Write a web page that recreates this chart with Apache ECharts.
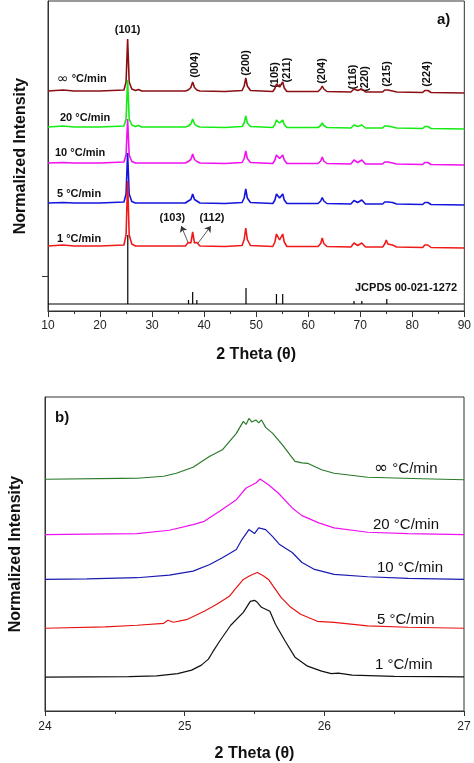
<!DOCTYPE html>
<html>
<head>
<meta charset="utf-8">
<script src="https://cdn.jsdelivr.net/npm/echarts@6/dist/echarts.min.js"></script>
<style>
  html, body { margin: 0; padding: 0; background: #fff; }
  #main { width: 474px; height: 763px; }
</style>
</head>
<body>
<div id="main"></div>
<script>
// ---- panel a: survey patterns (2 theta grid shared by all traces) ----
var twoThetaA = [10, 12.9, 15, 20,
  24.6, 25.0, 25.3, 25.6, 26.1, 26.8, 27.4, 28.0, 32,
  36.4, 36.95, 37.45, 37.8, 38.15, 38.6, 39.2, 44,
  47.3, 47.7, 48.0, 48.3, 48.9,
  53.2, 53.6, 53.9, 54.5, 55.1, 55.4, 55.9,
  61.9, 62.4, 62.7, 63.0, 63.6,
  68.2, 68.8, 69.5, 70.3, 71.0,
  74.3, 74.7, 75.0, 75.3, 76.2, 77.0,
  82.0, 82.4, 82.7, 83.0, 83.6,
  90];

var quenchA = [1, 2, 1, 1,
  2, 10, 53, 10, 3, 1.5, 2.5, 1, 1,
  1, 2, 4.5, 10, 4.5, 2, 1, 0.5,
  1.5, 6, 14, 6, 1.5,
  0.5, 3.5, 8, 5, 10, 4, 0.5,
  0.5, 3, 6, 3, 0.5,
  0, 3, 1.5, 3, 0,
  0, 2, 4, 2, 1, 0,
  -0.5, 1.5, 3, 1.5, -0.5,
  -1];
var rate20A = [1, 2, 1, 1,
  2, 9, 48, 9, 3, 1.5, 2.5, 1, 1,
  1, 2, 4, 9, 4, 2, 1, 0.5,
  1.5, 5, 12, 5, 1.5,
  0.5, 3.5, 8, 5, 8, 3.5, 0.5,
  0.5, 2.5, 5, 2.5, 0.5,
  0, 3, 1.5, 3, 0,
  0, 2, 4, 2, 1, 0,
  -0.5, 1.5, 3, 1.5, -0.5,
  -1];
var rate10A = [1, 1.5, 1, 1,
  2, 9, 45, 9, 2.5, 1, 1, 1, 1,
  1, 2.5, 4.5, 10, 4.5, 2.5, 1, 0.5,
  1.5, 5.5, 13, 5.5, 1.5,
  0.5, 4, 9, 5.5, 9, 4, 0.5,
  0.5, 3, 7, 3, 0.5,
  0, 4, 1.5, 4, 0,
  0, 2, 4, 2, 1, 0,
  -0.5, 1.5, 3, 1.5, -0.5,
  -1];
var rate5A = [1, 1.5, 1, 1,
  2, 10, 51, 10, 2.5, 1, 1, 1, 1,
  1, 3, 4.5, 10, 4.5, 3, 1, 0.5,
  1.5, 6, 15, 6, 1.5,
  0.5, 4, 10, 6, 10, 4, 0.5,
  0.5, 3, 6.5, 3, 0.5,
  0, 3.5, 1.5, 4, 0,
  0, 2, 4, 2, 1.5, 0,
  -0.5, 1.5, 3, 1.5, -0.5,
  -1];
var rate1A = [1, 2, 1, 1,
  2, 12, 66, 12, 3, 1, 1, 1, 1,
  1, 4.5, 4, 15, 4, 4.5, 1, 0.5,
  1.5, 7.5, 19, 7.5, 1.5,
  0.5, 5, 13, 7, 13, 5, 0.5,
  0.5, 3.5, 9, 3.5, 0.5,
  0, 4, 1.5, 4, 0,
  0, 3, 7, 3, 2, 0,
  -0.5, 2, 4, 2, -0.5,
  -1];
var offsetsA = [219, 183, 147, 107, 64];

// JCPDS 00-021-1272 reference sticks
var stickTheta = [25.33, 37.0, 37.8, 38.6, 48.05, 53.9, 55.1, 62.2, 68.8, 70.3, 75.1, 76.1, 82.7, 83.2];
var stickHeight = [69, 4, 12, 4, 16, 10, 10, 2, 3, 3, 5, 2, 2, 1.5];
var stickBase = 7;

var hklNames = ['(004)', '(200)', '(105)', '(211)', '(204)', '(116)', '(220)', '(215)', '(224)'];
var hklTheta = [37.8, 48.0, 53.9, 55.1, 62.7, 68.8, 70.3, 75.0, 82.7];

// ---- panel b: (101) reflection close-up ----
var peakQuench = [[24.0, 0], [24.54, 0.8], [24.66, 1], [24.85, 3], [24.94, 6], [25.06, 12], [25.18, 23],
  [25.27, 29.5], [25.37, 46], [25.42, 58], [25.44, 55], [25.46, 61], [25.48, 57.5], [25.51, 59.5],
  [25.53, 56.5], [25.55, 59.5], [25.58, 52], [25.63, 46], [25.70, 34.5], [25.79, 18], [25.84, 16.5],
  [25.88, 16], [25.98, 9.5], [26.07, 6], [26.31, 2], [26.7, 0.5], [27.0, -0.5]];
var peak20 = [[24.0, 0], [24.3, 0.5], [24.66, 1], [24.89, 4.3], [25.06, 10], [25.14, 13.3], [25.25, 23.3],
  [25.37, 35], [25.44, 46.7], [25.51, 51.7], [25.54, 55.7], [25.60, 50], [25.67, 41.7], [25.77, 26.7],
  [25.84, 19], [25.96, 11.7], [26.07, 6.7], [26.31, 2.3], [26.6, 1], [27.0, 0]];
var peak10 = [[24.0, 0], [24.3, 0.5], [24.66, 1.7], [24.89, 4.3], [25.06, 8.3], [25.18, 15], [25.27, 21.7],
  [25.37, 30], [25.41, 40], [25.46, 50], [25.50, 46], [25.53, 51.7], [25.58, 50], [25.63, 43],
  [25.68, 35], [25.77, 27], [25.84, 17], [25.93, 10], [26.07, 5], [26.31, 2.7], [26.6, 1], [27.0, 0]];
var peak5 = [[24.0, 0], [24.43, 1.3], [24.66, 3], [24.85, 5], [24.88, 8], [24.92, 6], [25.02, 9],
  [25.14, 17], [25.23, 24], [25.32, 32], [25.36, 39], [25.42, 49], [25.47, 53], [25.52, 56],
  [25.56, 53], [25.6, 49], [25.65, 39], [25.69, 31], [25.76, 21], [25.83, 14], [25.95, 7],
  [26.07, 6], [26.31, 2.3], [26.6, 1], [27.0, 0]];
var peak1 = [[24.0, 0], [24.3, 0.3], [24.6, 0.5], [24.8, 1.2], [24.95, 3.5], [25.05, 7], [25.12, 12],
  [25.17, 18], [25.2, 25], [25.25, 36], [25.33, 52], [25.42, 65], [25.47, 76], [25.5, 77],
  [25.52, 75], [25.55, 70], [25.61, 66], [25.65, 53], [25.72, 36], [25.79, 20], [25.88, 11],
  [25.98, 6], [26.05, 3.5], [26.1, 4], [26.2, 2], [26.5, 0.8], [26.8, 0.5], [27.0, 0.3]];
var offsetsB = [232.5, 177, 132, 83, 34];

var rateNames = ['∞ °C/min', '20 °C/min', '10 °C/min', '5 °C/min', '1 °C/min'];

var FONT = '"Liberation Sans", Arial, Helvetica, sans-serif';
var AXIS = '#333';

function stacked(vals, off) {
  return twoThetaA.map(function (t, i) { return [t, vals[i] + off]; });
}
function shifted(pts, off) {
  return pts.map(function (p) { return [p[0], p[1] + off]; });
}
function sticks() {
  var d = [[10, stickBase]];
  stickTheta.forEach(function (t, i) {
    d.push([t, stickBase], [t, stickBase + stickHeight[i]], [t, stickBase]);
  });
  d.push([90, stickBase]);
  return d;
}
function trace(name, data, color, width, idx) {
  return {
    name: name, type: 'line', xAxisIndex: idx, yAxisIndex: idx, data: data,
    showSymbol: false, symbol: 'none', silent: true,
    lineStyle: { color: color, width: width }
  };
}

var colorsA = ['#8B0F12', '#14EC14', '#F010F0', '#1414DC', '#F01A1A'];
var colorsB = ['#2A7A2A', '#F010F0', '#1A1AB0', '#E81414', '#111111'];
var dataA = [quenchA, rate20A, rate10A, rate5A, rate1A];
var dataB = [peakQuench, peak20, peak10, peak5, peak1];

// label layout (panel a, in axis units)
var hklShift = [0.5, 0, -0.2, 0.9, 0, -0.2, 0.6, 0.2, 0.2];
var hklLevel = [246, 248, 236, 241, 240, 234, 232, 237, 237];

var series = [];
dataA.forEach(function (d, i) {
  series.push(trace(rateNames[i], stacked(d, offsetsA[i]), colorsA[i], 1.6, 0));
});
series.push(trace('JCPDS', sticks(), '#000', 1.2, 0));
dataB.forEach(function (d, i) {
  series.push(trace(rateNames[i] + ' b', shifted(d, offsetsB[i]), colorsB[i], 1.2, 1));
});
series.push({
  type: 'lines', coordinateSystem: 'cartesian2d', xAxisIndex: 0, yAxisIndex: 0, silent: true,
  symbol: ['none', 'arrow'], symbolSize: 6,
  lineStyle: { color: '#333', width: 0.8, opacity: 1 },
  data: [{ coords: [[36.95, 68], [35.6, 85]] }, { coords: [[38.85, 68], [41.3, 85]] }]
});

function txt(s, x, y, size, weight, infSize, align, rot) {
  var parts = s.indexOf('∞') === 0 ? '{i|∞}' + s.slice(1) : s;
  return {
    type: 'text', x: x, y: y, rotation: rot || 0, silent: true,
    style: { text: parts, fill: '#111', fontFamily: FONT, fontSize: size, fontWeight: weight,
      align: align || 'left', verticalAlign: 'middle',
      textAlign: align || 'left', textVerticalAlign: 'middle',
      rich: { i: { fontFamily: '"DejaVu Sans"', fontSize: infSize || size, fontWeight: 'normal', fill: '#111' } } }
  };
}
var graphics = [
  txt('a)', 437, 20, 15, 'bold'),
  txt('b)', 55, 418, 15, 'bold'),
  txt('JCPDS 00-021-1272', 355, 288, 11, 'bold'),
  txt(rateNames[0], 57, 79, 11, 'bold', 14),
  txt(rateNames[1], 60, 118, 11, 'bold'),
  txt(rateNames[2], 55, 153, 11, 'bold'),
  txt(rateNames[3], 57, 194, 11, 'bold'),
  txt(rateNames[4], 57, 239, 11, 'bold'),
  txt(rateNames[0], 374, 469, 15, 'normal', 17),
  txt(rateNames[1], 373, 525, 15, 'normal'),
  txt(rateNames[2], 377, 568, 15, 'normal'),
  txt(rateNames[3], 377, 620, 15, 'normal'),
  txt(rateNames[4], 375, 665, 15, 'normal')
];

var nameStyle = { fontFamily: FONT, fontSize: 16, fontWeight: 'bold', color: '#111' };
var lblStyle = { fontFamily: FONT, fontSize: 12, color: '#222', hideOverlap: false };

var option = {
  animation: false,
  backgroundColor: '#fff',
  textStyle: { fontFamily: FONT },
  grid: [
    { left: 48, right: 8, top: 1, bottom: 452, show: true, borderColor: AXIS, borderWidth: 1, backgroundColor: 'transparent' },
    { left: 40, right: 10, top: 397, bottom: 51, show: true, borderColor: AXIS, borderWidth: 1, backgroundColor: 'transparent' }
  ],
  xAxis: [
    { gridIndex: 0, type: 'value', min: 10, max: 90, interval: 10,
      axisLine: { show: true, onZero: false, lineStyle: { color: AXIS, width: 1 } },
      axisTick: { show: true, length: 6, lineStyle: { color: AXIS } },
      minorTick: { show: true, splitNumber: 2, length: 3, lineStyle: { color: AXIS } },
      splitLine: { show: false },
      axisLabel: Object.assign({ margin: 9 }, lblStyle),
      name: '2 Theta (θ)', nameLocation: 'middle', nameGap: 36, nameTextStyle: nameStyle },
    { gridIndex: 1, type: 'value', min: 24, max: 27, interval: 1,
      axisLine: { show: true, onZero: false, lineStyle: { color: AXIS, width: 1 } },
      axisTick: { show: true, length: 5, lineStyle: { color: AXIS } },
      minorTick: { show: true, splitNumber: 2, length: 3, lineStyle: { color: AXIS } },
      splitLine: { show: false },
      axisLabel: Object.assign({ margin: 10 }, lblStyle),
      name: '2 Theta (θ)', nameLocation: 'middle', nameGap: 35, nameTextStyle: nameStyle }
  ],
  yAxis: [
    { gridIndex: 0, type: 'value', min: 0, max: 310,
      axisLine: { show: true, onZero: false, lineStyle: { color: AXIS, width: 1 } },
      axisTick: { show: true, length: 6, customValues: [35], lineStyle: { color: AXIS } },
      axisLabel: { show: false }, splitLine: { show: false },
      name: 'Normalized Intensity', nameLocation: 'middle', nameGap: 19, nameTextStyle: nameStyle },
    { gridIndex: 1, type: 'value', min: 0, max: 315,
      axisLine: { show: true, onZero: false, lineStyle: { color: AXIS, width: 1 } },
      axisTick: { show: false },
      axisLabel: { show: false }, splitLine: { show: false },
      name: 'Normalized Intensity', nameLocation: 'middle', nameGap: 21, nameTextStyle: nameStyle }
  ],
  series: series,
  graphic: graphics
};

var chart = echarts.init(document.getElementById('main'), null, { renderer: 'canvas' });
chart.setOption(option);

// peak indices, placed through the panel-a scales
function at(x, y) { return chart.convertToPixel({ gridIndex: 0 }, [x, y]); }
hklNames.forEach(function (n, i) {
  var p = at(hklTheta[i] + hklShift[i], hklLevel[i]);
  graphics.push(txt(n, p[0], p[1], 11, 'bold', null, 'center', Math.PI / 2));
});
[['(101)', 25.3, 281], ['(103)', 33.9, 93], ['(112)', 41.5, 93]].forEach(function (l) {
  var p = at(l[1], l[2]);
  graphics.push(txt(l[0], p[0], p[1], 11, 'bold', null, 'center'));
});
chart.setOption({ graphic: graphics });
</script>
</body>
</html>
